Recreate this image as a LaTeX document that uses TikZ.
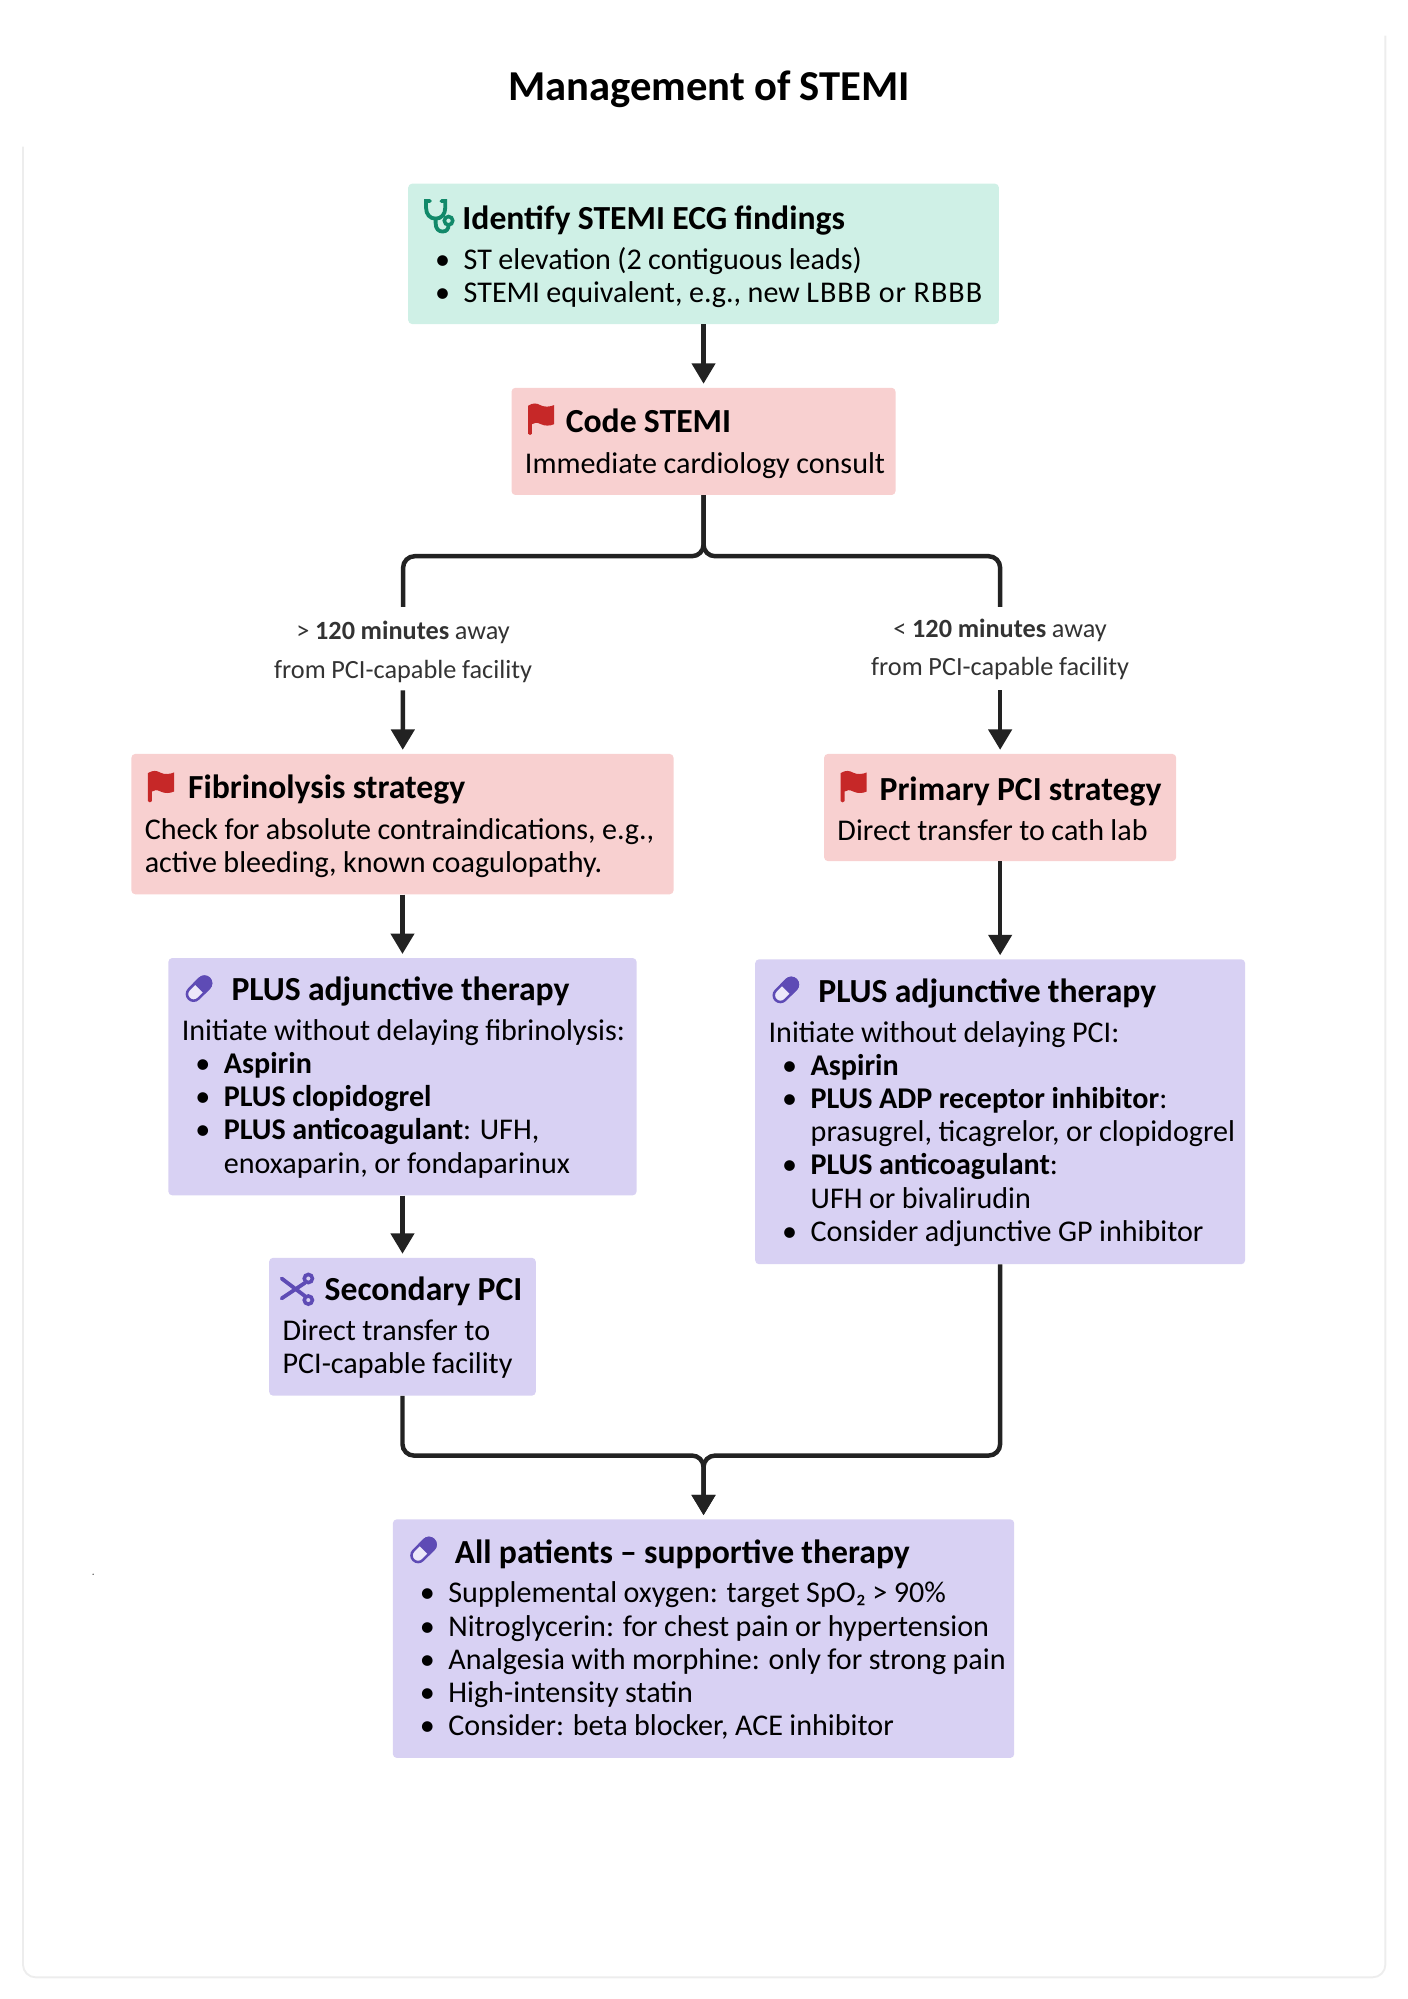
\documentclass[tikz,border=0pt]{standalone}
\usepackage{fontspec}
\setmainfont{Carlito}[WordSpace=0.95]
\usetikzlibrary{arrows.meta}

\definecolor{tealbox}{HTML}{CFF0E6}
\definecolor{redbox}{HTML}{F8D0D0}
\definecolor{violetbox}{HTML}{D8D1F3}
\definecolor{tealicon}{HTML}{12896A}
\definecolor{redicon}{HTML}{C62828}
\definecolor{violeticon}{HTML}{5E4BB5}
\definecolor{paleicon}{HTML}{ECE8FA}
\definecolor{inkline}{HTML}{222222}
\definecolor{framegray}{HTML}{EDEDED}

\newlength{\hdtop}
\newcommand{\hd}[2]{\mbox{\hspace*{#1pt}\rule{0pt}{\hdtop}{\fontsize{26.4}{26}\selectfont\bfseries #2}}}
\newcommand{\itm}[1]{\mbox{\makebox[33pt][c]{\textbullet}#1}}
\newcommand{\cnt}[1]{\mbox{\hspace*{33pt}#1}}

\tikzset{
  boxtop/.style={execute at begin node={\setlength{\hdtop}{#1}}},
  box/.style={rectangle, rounded corners=3pt, inner xsep=10.5pt, inner ysep=0pt, align=flush left, text=black, font=\fontsize{23.6}{26}\selectfont},
  identifybox/.style={box, fill=tealbox, boxtop=23.5pt},
  redflagbox/.style={box, fill=redbox, boxtop=22pt},
  therapybox/.style={box, fill=violetbox, boxtop=20pt},
  distlabel/.style={inner sep=0pt, align=center, minimum height=65pt, text=black!80, font=\fontsize{20.6}{30}\selectfont},
  link/.style={line width=3.5pt, draw=inkline, rounded corners=9pt},
  arrow/.style={link, -{Triangle[width=18pt,length=16pt]}, shorten >=3pt},
  flagicon/.pic={
    \fill[redicon] (0,2) .. controls (4,-0.5) and (7,0) .. (10,1.8) .. controls (13,3.2) and (17,3) .. (20.4,1.5)
      -- (20.4,16.5) .. controls (17,18) and (13,18) .. (10,16.5) .. controls (7,15) and (5,15) .. (3,16.5)
      -- (3,24) .. controls (3,25.3) and (0,25.3) .. (0,24) -- cycle;
  },
  pillicon/.pic={
    \begin{scope}[rotate=45]
    \draw[line width=2pt, draw=violeticon, fill=paleicon, rounded corners=5.2pt] (-11.2,-5.2) rectangle (11.2,5.2);
    \fill[violeticon] (0,-6.2) -- (6,-6.2) arc[start angle=-90, end angle=90, radius=6.2] -- (0,6.2) -- cycle;
    \end{scope}
  },
  stethicon/.pic={
    \draw[line width=3pt, draw=tealicon, line cap=round] (4,0.6) -- (1,0.6) -- (1,6) .. controls (1,11) and (4,14.4) .. (8.5,14.4)
      .. controls (13,14.4) and (16,11) .. (16,6) -- (16,0.6) -- (13,0.6);
    \draw[line width=3pt, draw=tealicon, line cap=round] (8.5,14.4) -- (8.5,18) .. controls (8.5,22.5) and (11,24.5) .. (14,24.5)
      .. controls (17,24.5) and (18.6,22.5) .. (18.6,19.5);
    \draw[line width=2.8pt, draw=tealicon] (18.6,16) circle[radius=3.3];
  },
  scissoricon/.pic={
    \draw[line width=3pt, draw=violeticon, line cap=round] (0.8,4.2) -- (19.1,18) (0.8,19.8) -- (19.1,7.6);
    \draw[line width=2.8pt, draw=violeticon] (21.7,4.2) circle[radius=3.2] (21.7,21.1) circle[radius=3.2];
  },
}

\begin{document}
\begin{tikzpicture}[x=1pt, y=-1pt]
\useasboundingbox (0,0) rectangle (1103,1567);

% page frame
\draw[line width=1.5pt, draw=framegray, rounded corners=10pt] (18,115) -- (18,1550) -- (1086,1550) -- (1086,28);
\fill[black!70] (73,1234) circle[radius=0.6];

\node[inner sep=0pt, font=\fontsize{33.4}{40}\selectfont\bfseries] (title) at (556,70) {Management of STEMI};

% boxes
\node[identifybox, text width=442pt, minimum height=110pt] (identify) at (551.5,199) {\hd{32}{Identify STEMI ECG findings}\\[5pt]
\itm{ST elevation (2 contiguous leads)}\\
\itm{STEMI equivalent, e.g., new {\addfontfeature{LetterSpace=3.5}LBBB or RBBB}}};

\node[redflagbox, text width=280pt, minimum height=84pt] (code) at (551.5,346) {\hd{32}{Code STEMI}\\[6pt]
\mbox{Immediate cardiology consult}};

\node[redflagbox, text width=404pt, minimum height=110pt] (fibrinolysis) at (315.5,646) {\hd{34}{Fibrinolysis strategy}\\[6pt]
\mbox{Check for absolute contraindications, e.g.,}\\
\mbox{active bleeding, known coagulopathy.}};

\node[redflagbox, boxtop=20.5pt, text width=255pt, minimum height=84pt] (primary) at (784,633) {\hd{33}{Primary PCI strategy}\\[6pt]
\mbox{Direct transfer to cath lab}};

\node[therapybox, text width=346pt, minimum height=186pt] (adjleft) at (315.5,844) {\hd{39}{PLUS adjunctive therapy}\\[5pt]
\mbox{Initiate without delaying fibrinolysis:}\\
\itm{\textbf{Aspirin}}\\
\itm{\textbf{PLUS clopidogrel}}\\
\itm{\textbf{PLUS anticoagulant}: UFH,}\\
\cnt{enoxaparin, or fondaparinux}};

\node[therapybox, text width=363pt, minimum height=239pt] (adjright) at (784,871.5) {\hd{39}{PLUS adjunctive therapy}\\[5pt]
\mbox{Initiate without delaying PCI:}\\
\itm{\textbf{Aspirin}}\\
\itm{\textbf{PLUS ADP receptor inhibitor}:}\\
\cnt{prasugrel, ticagrelor, or clopidogrel}\\
\itm{\textbf{PLUS anticoagulant}:}\\
\cnt{UFH or bivalirudin}\\
\itm{Consider adjunctive GP inhibitor}};

\node[therapybox, text width=188pt, minimum height=108pt] (secondary) at (315.5,1040) {\hd{33}{Secondary PCI}\\[5pt]
\mbox{Direct transfer to}\\
\mbox{PCI-capable facility}};

\node[therapybox, text width=466pt, minimum height=187pt] (allpts) at (551.5,1284.5) {\hd{38}{All patients -- supportive therapy}\\[5pt]
\itm{Supplemental oxygen: target SpO₂ > 90\%}\\
\itm{Nitroglycerin: for chest pain or hypertension}\\
\itm{Analgesia with morphine: only for strong pain}\\
\itm{High-intensity statin}\\
\itm{Consider: beta blocker, ACE inhibitor}};

% distance labels
\node[distlabel] (farlabel) at (316,508.5) {\rule{0pt}{19.5pt}> \textbf{120 minutes} away\\from PCI-capable facility};
\node[distlabel] (nearlabel) at (784,508.5) {\rule{0pt}{16pt}< \textbf{120 minutes} away\\from PCI-capable facility};

% icons
\pic at (333,157) {stethicon};
\pic at (414,316) {flagicon};
\pic at (116,604) {flagicon};
\pic at (659,604) {flagicon};
\pic at (156,775) {pillicon};
\pic at (616,776) {pillicon};
\pic at (220,998) {scissoricon};
\pic at (332,1215) {pillicon};

% junctions
\coordinate (splitleft) at (farlabel.north |- 0,436);
\coordinate (splitright) at (nearlabel.north |- 0,436);
\coordinate (mergeleft) at (secondary.south |- 0,1141);
\coordinate (mergeright) at (adjright.south |- 0,1141);

% connectors
\draw[arrow] (identify) -- (code);
\draw[link] (code.south) -- (code.south |- splitleft) -- (splitleft) -- (farlabel.north);
\draw[link] (code.south) -- (code.south |- splitright) -- (splitright) -- (nearlabel.north);
\draw[arrow] (farlabel) -- (fibrinolysis);
\draw[arrow] (nearlabel) -- (primary);
\draw[arrow] (fibrinolysis) -- (adjleft);
\draw[arrow] (primary) -- (adjright);
\draw[arrow] (adjleft) -- (secondary);
\draw[arrow] (secondary.south) -- (mergeleft) -- (allpts.north |- mergeleft) -- (allpts.north);
\draw[arrow] (adjright.south) -- (mergeright) -- (allpts.north |- mergeright) -- (allpts.north);

\end{tikzpicture}
\end{document}
